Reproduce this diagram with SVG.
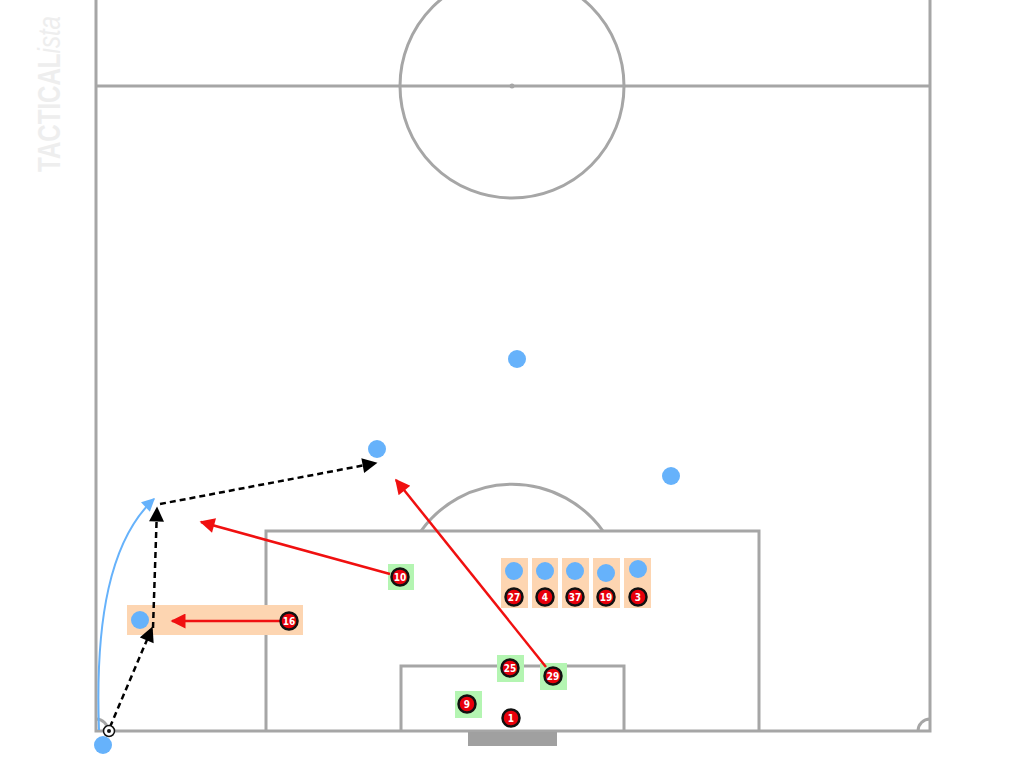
<svg xmlns="http://www.w3.org/2000/svg" width="1024" height="768" viewBox="0 0 1024 768">
<defs>
<style>
.ln{fill:none;stroke:#a6a6a6;stroke-width:3}
.bp{fill:#66b2fb}
.or{fill:#fdd5b1}
.gr{fill:#b4f5b2}
.bd{fill:#e8000b;stroke:#111;stroke-width:2.5}
.bt{fill:#fff;font-family:"DejaVu Sans Condensed","Liberation Sans",sans-serif;font-weight:bold;font-size:10px;text-anchor:middle}
.red{fill:none;stroke:#f01010;stroke-width:2.5}
.blk{fill:none;stroke:#000;stroke-width:2.5;stroke-dasharray:6,4}
.blu{fill:none;stroke:#66b2fb;stroke-width:2}
</style>
<marker id="mr" viewBox="0 0 10 10" refX="9" refY="5" markerWidth="17" markerHeight="15" markerUnits="userSpaceOnUse" orient="auto"><path d="M0,0 L10,5 L0,10 z" fill="#f01010"/></marker>
<marker id="mk" viewBox="0 0 10 10" refX="9" refY="5" markerWidth="17" markerHeight="15" markerUnits="userSpaceOnUse" orient="auto"><path d="M0,0 L10,5 L0,10 z" fill="#000"/></marker>
<marker id="mb" viewBox="0 0 10 10" refX="9" refY="5" markerWidth="15" markerHeight="13" markerUnits="userSpaceOnUse" orient="auto"><path d="M0,0 L10,5 L0,10 z" fill="#66b2fb"/></marker>
</defs>
<rect width="1024" height="768" fill="#fff"/>
<text transform="translate(60,172) rotate(-90)" font-family="'Liberation Sans',sans-serif" font-size="32" font-weight="bold" fill="#eeeeee" textLength="156" lengthAdjust="spacingAndGlyphs">TACTICAL<tspan font-style="italic" font-weight="normal">ista</tspan></text>
<g id="pitch">
<path class="ln" d="M96,-5 V731 H930 V-5"/>
<line class="ln" x1="96" y1="86" x2="930" y2="86"/>
<circle class="ln" cx="512" cy="86" r="112"/>
<circle cx="512" cy="86" r="2.5" fill="#a6a6a6"/>
<path class="ln" d="M266,731 V531 H759 V731"/>
<path class="ln" d="M401,731 V666 H624 V731"/>
<path class="ln" d="M421,531 A112,112 0 0 1 603,531"/>
<path class="ln" d="M96,719 A12,12 0 0 1 108,731"/>
<path class="ln" d="M918,731 A12,12 0 0 1 930,719"/>
<rect x="468" y="732" width="89" height="14" fill="#a0a0a0"/>
</g>
<g id="zones">
<rect class="or" x="127" y="605" width="176" height="30"/>
<rect class="or" x="501" y="558" width="27" height="50"/>
<rect class="or" x="532" y="558" width="26" height="50"/>
<rect class="or" x="562" y="558" width="27" height="50"/>
<rect class="or" x="593" y="558" width="27" height="50"/>
<rect class="or" x="624" y="558" width="27" height="50"/>
<rect class="gr" x="388" y="564" width="26" height="26"/>
<rect class="gr" x="497" y="655" width="27" height="27"/>
<rect class="gr" x="540" y="663" width="27" height="27"/>
<rect class="gr" x="455" y="691" width="27" height="27"/>
</g>
<g id="connectors">
<line class="red" x1="280" y1="621" x2="172" y2="621" marker-end="url(#mr)"/>
<line class="red" x1="390" y1="574" x2="201" y2="522" marker-end="url(#mr)"/>
<line class="red" x1="546" y1="667" x2="396" y2="480" marker-end="url(#mr)"/>
<line class="blk" x1="110" y1="727" x2="152" y2="628" marker-end="url(#mk)"/>
<line class="blk" x1="153" y1="628" x2="157" y2="508" marker-end="url(#mk)"/>
<line class="blk" x1="160" y1="504" x2="376" y2="463" marker-end="url(#mk)"/>
<path class="blu" d="M99,730 C95,620 110,540 154,499" marker-end="url(#mb)"/>
</g>
<g id="blue-players">
<circle class="bp" cx="517" cy="359" r="9"/>
<circle class="bp" cx="377" cy="449" r="9"/>
<circle class="bp" cx="671" cy="476" r="9"/>
<circle class="bp" cx="140" cy="620" r="9"/>
<circle class="bp" cx="103" cy="745" r="9"/>
<circle class="bp" cx="514" cy="571" r="9"/>
<circle class="bp" cx="545" cy="571" r="9"/>
<circle class="bp" cx="575" cy="571" r="9"/>
<circle class="bp" cx="606" cy="573" r="9"/>
<circle class="bp" cx="638" cy="569" r="9"/>
</g>
<g id="ball">
<circle cx="109" cy="731" r="5.5" fill="#fff" stroke="#111" stroke-width="1.5"/>
<circle cx="109" cy="731" r="2" fill="#111"/>
</g>
<g id="p10"><circle class="bd" cx="400" cy="577" r="8.5"/><text class="bt" x="400" y="580.5">10</text></g>
<g id="p16"><circle class="bd" cx="289" cy="621" r="8.5"/><text class="bt" x="289" y="624.5">16</text></g>
<g id="p27"><circle class="bd" cx="514" cy="597" r="8.5"/><text class="bt" x="514" y="600.5">27</text></g>
<g id="p4"><circle class="bd" cx="545" cy="597" r="8.5"/><text class="bt" x="545" y="600.5">4</text></g>
<g id="p37"><circle class="bd" cx="575" cy="597" r="8.5"/><text class="bt" x="575" y="600.5">37</text></g>
<g id="p19"><circle class="bd" cx="606" cy="597" r="8.5"/><text class="bt" x="606" y="600.5">19</text></g>
<g id="p3"><circle class="bd" cx="638" cy="597" r="8.5"/><text class="bt" x="638" y="600.5">3</text></g>
<g id="p25"><circle class="bd" cx="510" cy="668" r="8.5"/><text class="bt" x="510" y="671.5">25</text></g>
<g id="p29"><circle class="bd" cx="553" cy="676" r="8.5"/><text class="bt" x="553" y="679.5">29</text></g>
<g id="p9"><circle class="bd" cx="467" cy="704" r="8.5"/><text class="bt" x="467" y="707.5">9</text></g>
<g id="p1"><circle class="bd" cx="511" cy="718" r="8.5"/><text class="bt" x="511" y="721.5">1</text></g>
</svg>
